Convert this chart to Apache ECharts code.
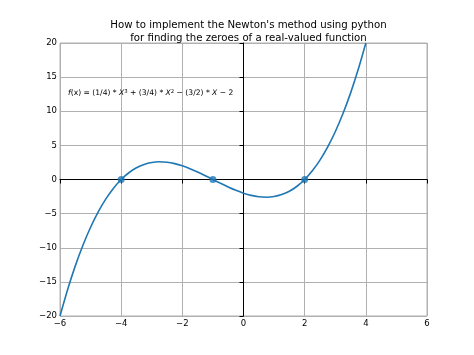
<!DOCTYPE html>
<html>
<head>
<meta charset="utf-8">
<script src="https://cdn.jsdelivr.net/npm/echarts@6/dist/echarts.min.js"></script>
<style>html,body{margin:0;padding:0;background:#fff}#c{width:474px;height:355px}</style>
</head>
<body>
<div id="c"></div>
<script>
const titleText = "How to implement the Newton's method using python\nfor finding the zeroes of a real-valued function";
const xValues = [-6,-5.75,-5.5,-5.25,-5,-4.75,-4.5,-4.25,-4,-3.75,-3.5,-3.25,-3,-2.75,-2.5,-2.25,-2,-1.75,-1.5,-1.25,-1,-0.75,-0.5,-0.25,0,0.25,0.5,0.75,1,1.25,1.5,1.75,2,2.25,2.5,2.75,3,3.25,3.5,3.75,4];
const yValues = [-20,-16.105,-12.656,-9.629,-7,-4.746,-2.844,-1.270,0,0.988,1.719,2.215,2.5,2.598,2.531,2.324,2,1.582,1.094,0.559,0,-0.559,-1.094,-1.582,-2,-2.324,-2.531,-2.598,-2.5,-2.215,-1.719,-0.988,0,1.270,2.844,4.746,7,9.629,12.656,16.105,20];
const rootsX = [-4,-1,2];
const rootsY = [0,0,0];
const xTicks = [-6,-4,-2,0,2,4,6];
const yTicks = [-20,-15,-10,-5,0,5,10,15,20];

const chart = echarts.init(document.getElementById('c'), null, {renderer:'canvas'});
const font = "'DejaVu Sans', sans-serif";
chart.setOption({
  animation:false,
  backgroundColor:'#fff',
  grid:{left:60,right:47,top:43,bottom:39,show:true,borderColor:'#b0b0b0',borderWidth:1},
  title:{text:titleText,left:243.5,top:13.5,textAlign:'center',
    textStyle:{fontFamily:font,fontSize:10.2,fontWeight:'normal',color:'#000',lineHeight:13}},
  xAxis:{type:'value',min:-6,max:6,interval:2,
    axisLine:{onZero:true,lineStyle:{color:'#000',width:1}},
    axisTick:{show:true,length:4,lineStyle:{color:'#000'}},
    axisLabel:{fontFamily:font,fontSize:8.5,color:'#000',margin:3,
      formatter:v=>String(v).replace('-','\u2212')},
    splitLine:{show:true,lineStyle:{color:'#b0b0b0',width:1}}},
  yAxis:{type:'value',min:-20,max:20,interval:5,
    axisLine:{onZero:true,lineStyle:{color:'#000',width:1}},
    axisTick:{show:true,length:4,lineStyle:{color:'#000'}},
    axisLabel:{fontFamily:font,fontSize:8.5,color:'#000',margin:3,
      formatter:v=>String(v).replace('-','\u2212')},
    splitLine:{show:true,lineStyle:{color:'#b0b0b0',width:1}}},
  series:[
    {type:'line',data:xValues.map((x,i)=>[x,yValues[i]]),showSymbol:false,smooth:0.3,
      lineStyle:{color:'#1f77b4',width:1.6},clip:true,z:3},
    {type:'scatter',data:rootsX.map((x,i)=>[x,rootsY[i]]),symbolSize:7,
      itemStyle:{color:'#1f77b4'},z:4}
  ],
  graphic:[{type:'text',left:68,top:89,z:10,
    style:{text:'{i|f}(x) = (1/4) * {i|X}{s|3} + (3/4) * {i|X}{s|2} \u2212 (3/2) * {i|X} \u2212 2',
      fontFamily:font,fontSize:7.6,fill:'#000',
      rich:{i:{fontFamily:font,fontSize:7.6,fontStyle:'italic',fill:'#000'},
            s:{fontFamily:font,fontSize:5.3,fill:'#000',verticalAlign:'top',padding:[0,0,4,0]}}}}]
});
</script>
</body>
</html>
